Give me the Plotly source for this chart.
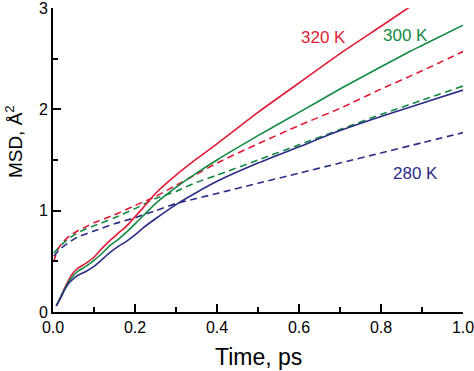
import plotly.graph_objects as go

# Solid curves (one grid for all three)
t_solid = [0.008, 0.02, 0.03, 0.04, 0.05, 0.06, 0.08, 0.10, 0.12, 0.14, 0.16, 0.18,
           0.20, 0.22, 0.25, 0.30, 0.35, 0.40, 0.50, 0.60, 0.70, 0.80, 0.87, 0.90, 1.00]
red_solid = [0.06, 0.16, 0.25, 0.33, 0.39, 0.43, 0.48, 0.54, 0.63, 0.71, 0.78, 0.85,
             0.94, 1.03, 1.17, 1.35, 1.51, 1.66, 1.97, 2.26, 2.55, 2.82, 3.01, 3.09, 3.35]
green_solid = [0.06, 0.16, 0.24, 0.31, 0.36, 0.40, 0.45, 0.51, 0.58, 0.66, 0.72, 0.79,
               0.87, 0.95, 1.07, 1.23, 1.37, 1.50, 1.74, 1.97, 2.20, 2.42, 2.57, 2.63, 2.83]
blue_solid = [0.06, 0.15, 0.23, 0.29, 0.33, 0.36, 0.40, 0.45, 0.52, 0.59, 0.65, 0.70,
              0.76, 0.83, 0.92, 1.06, 1.18, 1.29, 1.47, 1.63, 1.79, 1.93, 2.02, 2.06, 2.19]

# Dashed curves
t_dash = [0.002, 0.01, 0.02, 0.04, 0.06, 0.08, 0.10, 0.15, 0.20, 0.25, 0.30, 0.35,
          0.40, 0.50, 0.60, 0.70, 0.80, 0.90, 1.00]
red_dash = [0.50, 0.60, 0.67, 0.75, 0.80, 0.84, 0.88, 0.96, 1.05, 1.14, 1.25, 1.36,
            1.47, 1.66, 1.84, 2.01, 2.20, 2.38, 2.57]
green_dash = [0.58, 0.62, 0.66, 0.73, 0.78, 0.82, 0.85, 0.93, 1.02, 1.12, 1.19, 1.28,
              1.35, 1.50, 1.65, 1.80, 1.95, 2.09, 2.23]
blue_dash = [0.55, 0.59, 0.63, 0.69, 0.74, 0.77, 0.80, 0.87, 0.93, 1.00, 1.07, 1.12,
             1.17, 1.27, 1.37, 1.47, 1.57, 1.67, 1.77]

labels = ["320 K", "300 K", "280 K"]
label_x = [0.66, 0.86, 0.885]
label_y = [2.71, 2.73, 1.37]

RED = "#E11B36"
GREEN = "#128A43"
BLUE = "#2B2C86"
colors = [RED, GREEN, BLUE]
FONT = "Liberation Sans, Arial, sans-serif"

fig = go.Figure()
for ys, c in zip([red_dash, green_dash, blue_dash], colors):
    fig.add_trace(go.Scatter(x=t_dash, y=ys, mode="lines",
                             line=dict(color=c, width=1.6, dash="7px,4.5px", shape="spline", smoothing=0.6),
                             showlegend=False, hoverinfo="skip"))
for ys, c in zip([red_solid, green_solid, blue_solid], colors):
    fig.add_trace(go.Scatter(x=t_solid, y=ys, mode="lines",
                             line=dict(color=c, width=1.6, shape="spline", smoothing=0.6),
                             showlegend=False, hoverinfo="skip"))

for txt, lx, ly, c in zip(labels, label_x, label_y, colors):
    fig.add_annotation(x=lx, y=ly, xref="x", yref="y", text=txt, showarrow=False,
                       font=dict(family=FONT, size=17, color=c),
                       xanchor="center", yanchor="middle")

fig.add_annotation(x=-0.095, y=0.559, xref="paper", yref="paper",
                   text="MSD, Å<sup>2</sup>", showarrow=False, textangle=-90,
                   font=dict(family=FONT, size=19, color="black"),
                   xanchor="center", yanchor="middle")
fig.add_annotation(x=0.5, y=-0.148, xref="paper", yref="paper",
                   text="Time, ps", showarrow=False,
                   font=dict(family=FONT, size=23, color="black"),
                   xanchor="center", yanchor="middle")

fig.update_layout(
    width=474, height=371,
    margin=dict(l=53, r=11, t=8, b=59, autoexpand=False),
    paper_bgcolor="white", plot_bgcolor="white",
    font=dict(family=FONT, size=16, color="black"),
)
fig.update_xaxes(range=[0, 1], tick0=0, dtick=0.2, tickformat=".1f",
                 ticks="inside", ticklen=8, tickwidth=2, tickcolor="black",
                 minor=dict(ticks="inside", dtick=0.1, ticklen=5, tickwidth=2, tickcolor="black"),
                 showline=True, linewidth=2, linecolor="black",
                 showgrid=False, zeroline=False, tickfont=dict(size=16),
                 ticklabeloverflow="allow", automargin=False)
fig.update_yaxes(range=[0, 3], tick0=0, dtick=1,
                 ticks="inside", ticklen=8, tickwidth=2, tickcolor="black",
                 minor=dict(ticks="inside", dtick=0.5, ticklen=5, tickwidth=2, tickcolor="black"),
                 showline=True, linewidth=2, linecolor="black",
                 showgrid=False, zeroline=False, tickfont=dict(size=16),
                 ticklabeloverflow="allow", automargin=False)

fig.write_html("out.html", config={"displayModeBar": False},
               post_script="document.body.style.margin='0';document.body.style.overflow='hidden';")
